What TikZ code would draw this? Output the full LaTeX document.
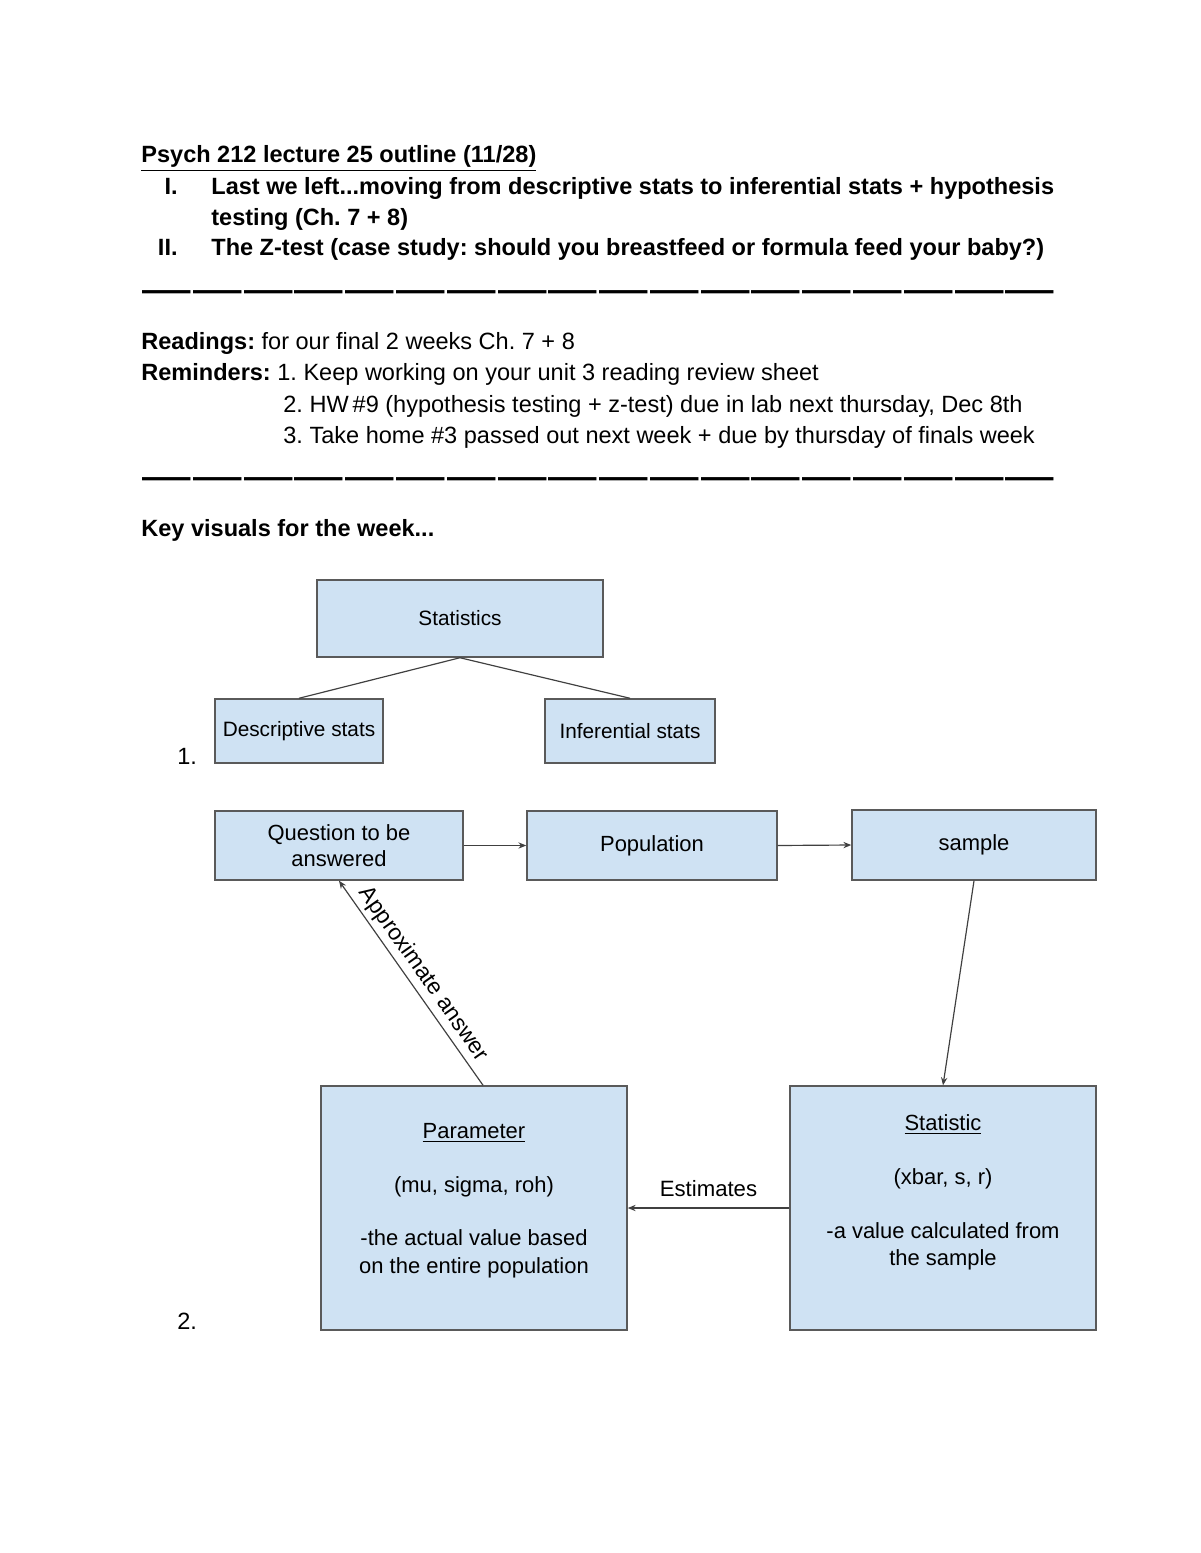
\documentclass[tikz,border=0pt]{standalone}
\usepackage{fontspec}
\setmainfont{Liberation Sans}
\usetikzlibrary{arrows.meta}
\definecolor{boxfill}{HTML}{CFE2F3}
\definecolor{boxline}{HTML}{5A5A5A}
\definecolor{linkc}{HTML}{404040}
\newcommand{\dsh}{—\kern1.2pt}
\newcommand{\sepline}{\dsh\dsh\dsh\dsh\dsh\dsh\dsh\dsh\dsh\dsh\dsh\dsh\dsh\dsh\dsh\dsh\dsh—}
\frenchspacing
\begin{document}
\begin{tikzpicture}[x=0.51pt,y=-0.51pt,
  box/.style 2 args={draw=boxline, fill=boxfill, line width=0.75pt, inner sep=0pt,
    minimum width=#1*0.51pt, minimum height=#2*0.51pt, align=center},
  hd/.style={anchor=base west, inner sep=0pt, font=\fontsize{12}{14}\selectfont},
  hdr/.style={anchor=base east, inner sep=0pt, font=\fontsize{12}{14}\selectfont\bfseries},
  sep/.style={anchor=base, inner sep=0pt, font=\fontsize{24.7}{26}\selectfont},
  bt/.style={font=\fontsize{11.2}{13.5}\selectfont},
  st/.style={font=\fontsize{10.6}{12}\selectfont},
  it/.style={anchor=base, inner sep=0pt, font=\fontsize{11.2}{13.5}\selectfont},
  link/.style={draw=linkc, line width=0.6pt},
  arr/.style={link, -{Stealth[length=4pt,width=3.2pt]}}]
\useasboundingbox[fill=white] (0,0) rectangle (1200,1553);

% header
\node[hd] (title) at (141,163) {\bfseries\underline{Psych 212 lecture 25 outline (11/28)}};
\node[hdr] (n1) at (178,194) {I.};
\node[hd] (l1) at (211,194) {\bfseries Last we left...moving from descriptive stats to inferential stats + hypothesis};
\node[hd] (l1b) at (211,225) {\bfseries testing (Ch. 7 + 8)};
\node[hdr] (n2) at (178,256) {II.};
\node[hd] (l2) at (211,256) {\bfseries The Z-test (case study: should you breastfeed or formula feed your baby?)};
\node[sep] (sep1) at (598.5,304) {\sepline};

\node[hd] (read) at (141,349) {\textbf{Readings:} for our final 2 weeks Ch. 7 + 8};
\node[hd] (rem1) at (141,380) {\textbf{Reminders:} 1. Keep working on your unit 3 reading review sheet};
\node[hd] (rem2) at (283,412) {2. HW\,\#9 (hypothesis testing + z-test) due in lab next thursday, Dec 8th};
\node[hd] (rem3) at (283,443) {3. Take home \#3 passed out next week + due by thursday of finals week};
\node[sep] (sep2) at (598.5,491) {\sepline};

\node[hd] (key) at (141,536) {\bfseries Key visuals for the week...};

% diagram 1
\node[box={286}{77}, st] (stats) at (460,618.5) {Statistics};
\node[box={168}{64}, st] (desc) at (299,731) {Descriptive stats};
\node[box={170}{64}, st] (inf) at (630,731) {Inferential stats};
\draw[link] (stats.south) -- (desc.north);
\draw[link] (stats.south) -- (inf.north);
\node[hd] (one) at (177,764) {1.};

% diagram 2
\node[box={248}{69}, bt] (q) at (339,845.5) {Question to be\\answered};
\node[box={250}{69}, bt] (pop) at (652,845.5) {Population};
\node[box={244}{70}, bt] (samp) at (974,845) {sample};
\node[box={306}{244}] (par) at (474,1208) {};
\node[box={306}{244}] (stat) at (943,1208) {};

\node[it] (parT) at (474,1138) {\underline{Parameter}};
\node[it] (parA) at (474,1192) {(mu, sigma, roh)};
\node[it] (parB) at (474,1245) {-the actual value based};
\node[it] (parC) at (474,1273) {on the entire population};

\node[it] (statT) at (943,1130) {\underline{Statistic}};
\node[it] (statA) at (943,1184) {(xbar, s, r)};
\node[it] (statB) at (943,1238) {-a value calculated from};
\node[it] (statC) at (943,1265) {the sample};

\draw[arr] (q.east) -- (pop.west);
\draw[arr] (pop.east) -- (samp.west);
\draw[arr] (samp.south) -- (stat.north);
\draw[arr] (stat.west) -- node[above=5.5pt, inner sep=0pt, font=\fontsize{11.3}{13}\selectfont] (estl) {Estimates} (par.east);
\draw[arr] ([xshift=4.6pt]par.north) -- node[sloped, above, inner sep=2pt, font=\fontsize{11.6}{13}\selectfont] (appl) {Approximate answer} (q.south);

\node[hd] (two) at (177,1329) {2.};
\end{tikzpicture}
\end{document}
